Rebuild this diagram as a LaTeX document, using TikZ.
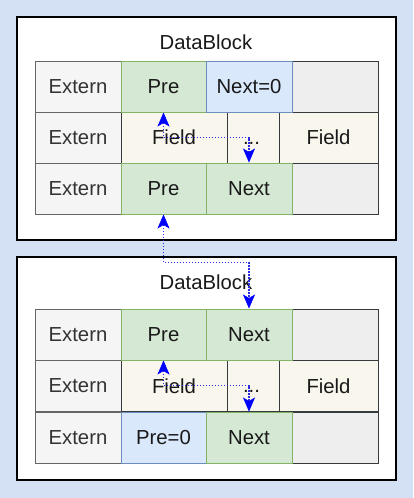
\documentclass[tikz,border=0pt]{standalone}
\usepackage{fontspec}
\setmainfont{Liberation Sans}
\usetikzlibrary{arrows.meta}
\definecolor{bg}{HTML}{D4E1F5}
\definecolor{grayfill}{HTML}{F5F5F5}
\definecolor{graystroke}{HTML}{666666}
\definecolor{greenfill}{HTML}{D5E8D4}
\definecolor{greenstroke}{HTML}{82B366}
\definecolor{bluefill}{HTML}{DAE8FC}
\definecolor{bluestroke}{HTML}{6C8EBF}
\definecolor{fieldfill}{HTML}{F9F7ED}
\definecolor{darkstroke}{HTML}{36393D}
\definecolor{emptyfill}{HTML}{EEEEEE}
\definecolor{txt}{HTML}{333333}
\definecolor{conncol}{HTML}{2A2AE0}
\tikzset{
  cell/.style={draw, line width=1pt, inner sep=0pt, minimum height=51pt, font=\fontsize{20.3}{24}\selectfont, text=txt},
  ext/.style={cell, fill=grayfill, draw=graystroke, minimum width=86pt},
  grn/.style={cell, fill=greenfill, draw=greenstroke, minimum width=86pt, text=black!90},
  blu/.style={cell, fill=bluefill, draw=bluestroke, minimum width=86pt, text=black!90},
  emp/.style={cell, fill=emptyfill, draw=darkstroke, minimum width=86pt},
  fld/.style={cell, fill=fieldfill, draw=darkstroke, text=black!90},
  outer/.style={draw=black, line width=1.5pt, fill=white, inner sep=0pt},
  title/.style={font=\fontsize{20.3}{24}\selectfont, text=black!90},
  dotstext/.style={font=\fontsize{20.3}{24}\selectfont, text=black!90, anchor=base, inner sep=0pt},
  tipshape/.tip={Stealth[length=14pt,width=12pt,inset=3.5pt,fill=blue,color=blue,line width=0.5pt]},
  conn/.style={draw=conncol, line width=1.5pt, dash pattern=on 1.5pt off 1.5pt, tipshape-tipshape}
}
\begin{document}
\begin{tikzpicture}[x=1pt,y=-1pt]
\useasboundingbox (0,0) rectangle (413,498);
\fill[bg] (0,0) rectangle (413,498);
% Box 1
\node[outer, minimum width=379pt, minimum height=223pt] (box1) at (206.5,128.5) {};
\node[title] (t1) at (206,42) {DataBlock};
% row 1
\node[ext] (a1) at (78,86.5) {Extern};
\node[emp] (e1) at (335,86.5) {};
% row 2
\node[ext] (a2) at (78,137.5) {Extern};
\node[fld, minimum width=106pt] (f2) at (174,137.5) {Field};
\node[fld, minimum width=52pt] (d2) at (253,137.5) {};
\node[fld, minimum width=99pt] (g2) at (328.5,137.5) {Field};
% row 3
\node[ext] (a3) at (78,188.5) {Extern};
\node[emp] (e3) at (335,188.5) {};
\node[grn, minimum width=85pt] (p1) at (163.5,86.5) {Pre};
\node[blu] (n1) at (249,86.5) {Next=0};
\node[grn, minimum width=85pt] (p3) at (163.5,188.5) {Pre};
\node[grn] (n3) at (249,188.5) {Next};
\node[dotstext] (dots1) at (251.5,144) {...};
% Box 2
\node[outer, minimum width=379pt, minimum height=223pt] (box2) at (206.5,368.5) {};
\node[title] (t2) at (206,282) {DataBlock};
\node[ext] (b1) at (78,334.5) {Extern};
\node[emp] (h1) at (335,334.5) {};
\node[ext] (b2) at (78,386) {Extern};
\node[fld, minimum width=106pt] (k2) at (174,386) {Field};
\node[fld, minimum width=52pt] (m2) at (253,386) {};
\node[fld, minimum width=99pt] (q2) at (328.5,386) {Field};
\node[ext] (b3) at (78,437.5) {Extern};
\node[emp] (h3) at (335,437.5) {};
\node[grn, minimum width=85pt] (r1) at (163.5,334.5) {Pre};
\node[grn] (s1) at (249,334.5) {Next};
\node[blu, minimum width=85pt] (r3) at (163.5,437.5) {Pre=0};
\node[grn] (s3) at (249,437.5) {Next};
\node[dotstext] (dots2) at (251.5,392.5) {...};
% connectors
\draw[conn] (p1.south) -- ++(0,25) -| (n3.north);
\draw[conn] (r1.south) -- ++(0,25) -| (s3.north);
\draw[conn] (p3.south) -- ++(0,48) -| (s1.north);
\end{tikzpicture}
\end{document}
